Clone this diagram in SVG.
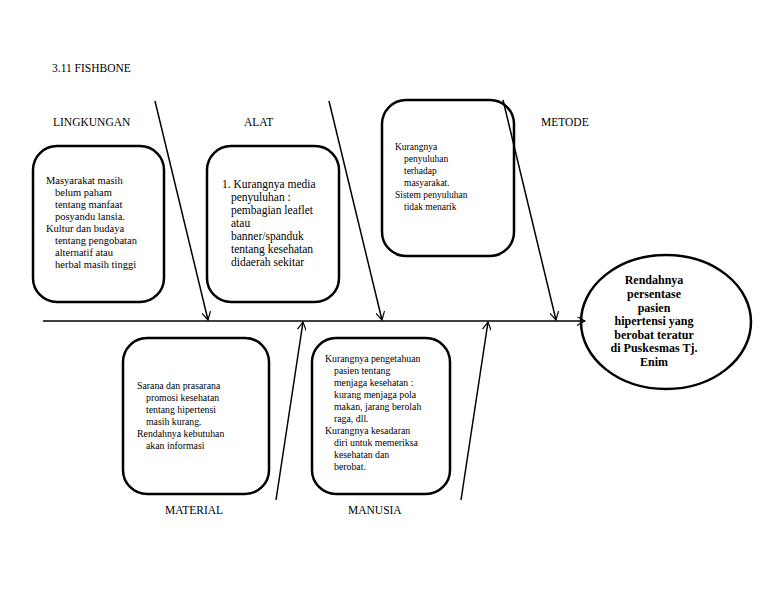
<svg xmlns="http://www.w3.org/2000/svg" width="768" height="594" viewBox="0 0 768 594">
<style>
.b{fill:#fff;stroke:#000;stroke-width:2.5}
.t{font-family:"Liberation Serif",serif;font-size:10.5px;fill:#000}
.l{font-family:"Liberation Serif",serif;font-size:11.5px;fill:#000}
.c{font-family:"Liberation Serif",serif;font-size:12px;font-weight:bold;fill:#000;text-anchor:middle}
.ln{stroke:#000;stroke-width:1.5;fill:none;marker-end:url(#a)}
</style>
<defs><marker id="a" viewBox="0 0 10 10" refX="9" refY="5" markerWidth="9" markerHeight="9" orient="auto" markerUnits="userSpaceOnUse"><path d="M0,0L9,5L0,10" fill="none" stroke="#000" stroke-width="1.3"/></marker></defs>
<rect width="768" height="594" fill="#fff"/>
<text class="l" x="52" y="72">3.11 FISHBONE</text>
<text class="l" x="53" y="126">LINGKUNGAN</text>
<text class="l" x="244" y="126">ALAT</text>
<text class="l" x="541" y="126">METODE</text>
<text class="l" x="165" y="514">MATERIAL</text>
<text class="l" x="348" y="514">MANUSIA</text>
<g id="lingkungan"><rect class="b" x="33" y="146" width="131" height="156" rx="24"/>
<text class="t"><tspan x="46" y="184">Masyarakat masih</tspan><tspan x="55" y="196">belum paham</tspan><tspan x="55" y="208">tentang manfaat</tspan><tspan x="55" y="220">posyandu lansia.</tspan><tspan x="46" y="232">Kultur dan budaya</tspan><tspan x="55" y="244">tentang pengobatan</tspan><tspan x="55" y="256">alternatif atau</tspan><tspan x="55" y="268">herbal masih tinggi</tspan></text></g>
<g id="alat"><rect class="b" x="207" y="146" width="132" height="156" rx="24"/>
<text class="t" style="font-size:11.5px"><tspan x="222" y="188">1. Kurangnya media</tspan><tspan x="231" y="201">penyuluhan :</tspan><tspan x="231" y="214">pembagian leaflet</tspan><tspan x="231" y="227">atau</tspan><tspan x="231" y="240">banner/spanduk</tspan><tspan x="231" y="253">tentang kesehatan</tspan><tspan x="231" y="266">didaerah sekitar</tspan></text></g>
<g id="metode"><rect class="b" x="382" y="100" width="132" height="156" rx="24"/>
<text class="t" style="font-size:9.5px"><tspan x="395" y="150">Kurangnya</tspan><tspan x="404" y="162">penyuluhan</tspan><tspan x="404" y="174">terhadap</tspan><tspan x="404" y="186">masyarakat.</tspan><tspan x="395" y="198">Sistem penyuluhan</tspan><tspan x="404" y="210">tidak menarik</tspan></text></g>
<g id="material"><rect class="b" x="123" y="338" width="146" height="156" rx="24"/>
<text class="t" style="font-size:9.8px"><tspan x="137" y="389">Sarana dan prasarana</tspan><tspan x="146" y="401">promosi kesehatan</tspan><tspan x="146" y="413">tentang hipertensi</tspan><tspan x="146" y="425">masih kurang.</tspan><tspan x="137" y="437">Rendahnya kebutuhan</tspan><tspan x="146" y="449">akan informasi</tspan></text></g>
<g id="manusia"><rect class="b" x="312" y="338" width="138" height="156" rx="24"/>
<text class="t" style="font-size:9.8px"><tspan x="325" y="362">Kurangnya pengetahuan</tspan><tspan x="334" y="374">pasien tentang</tspan><tspan x="334" y="386">menjaga kesehatan :</tspan><tspan x="334" y="398">kurang menjaga pola</tspan><tspan x="334" y="410">makan, jarang berolah</tspan><tspan x="334" y="422">raga, dll.</tspan><tspan x="325" y="434">Kurangnya kesadaran</tspan><tspan x="334" y="446">diri untuk memeriksa</tspan><tspan x="334" y="458">kesehatan dan</tspan><tspan x="334" y="470">berobat.</tspan></text></g>
<g id="effect"><ellipse class="b" cx="666" cy="322" rx="85" ry="67"/>
<text class="c"><tspan x="654" y="284">Rendahnya</tspan><tspan x="654" y="298">persentase</tspan><tspan x="654" y="312">pasien</tspan><tspan x="654" y="325">hipertensi yang</tspan><tspan x="654" y="339">berobat teratur</tspan><tspan x="654" y="352">di Puskesmas Tj.</tspan><tspan x="654" y="366">Enim</tspan></text></g>
<g id="connectors">
<line class="ln" x1="43" y1="321" x2="585" y2="321"/>
<line class="ln" x1="155" y1="101" x2="208" y2="320"/>
<line class="ln" x1="329" y1="101" x2="382" y2="320"/>
<line class="ln" x1="503" y1="100" x2="556" y2="320"/>
<line class="ln" x1="276" y1="500" x2="303" y2="322"/>
<line class="ln" x1="461" y1="500" x2="488" y2="322"/>
</g>
</svg>
